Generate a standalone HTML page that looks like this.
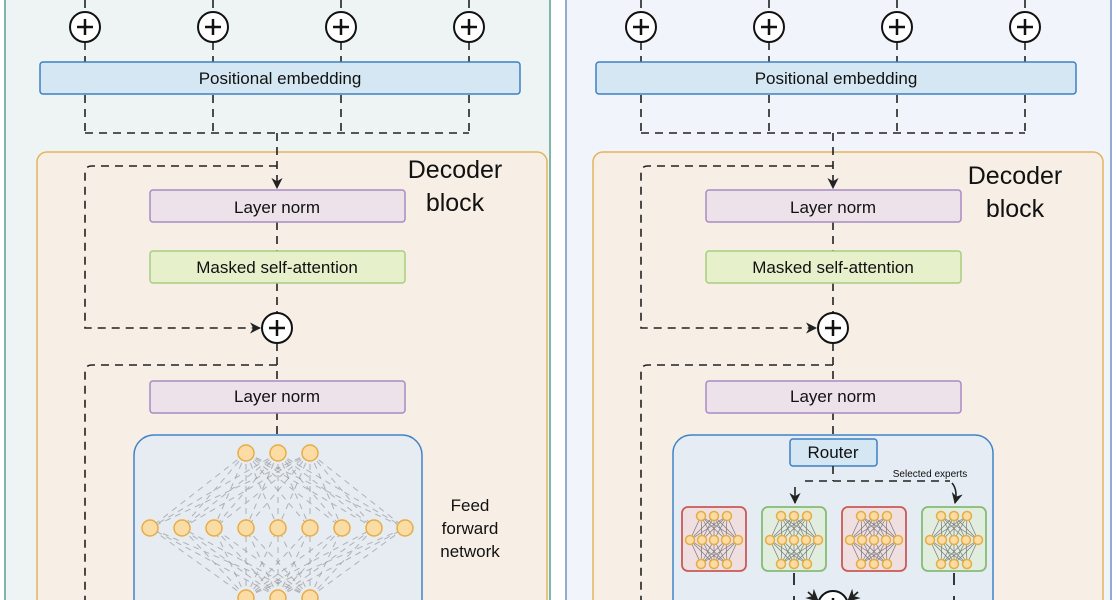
<!DOCTYPE html>
<html><head><meta charset="utf-8"><style>
html,body{margin:0;padding:0;background:#fff;}
svg{display:block;font-family:"Liberation Sans",sans-serif;}
</style></head><body>
<svg id="s" width="1116" height="600" viewBox="0 0 1116 600" xmlns="http://www.w3.org/2000/svg">
<defs>
<marker id="ar" viewBox="0 0 10 10" refX="9" refY="5" markerWidth="7" markerHeight="7" orient="auto"><path d="M0,0 L10,5 L0,10 L3,5 z" fill="#222"/></marker>
</defs>
<rect x="5" y="-5" width="545" height="620" fill="#eef4f4" stroke="#7fb5aa" stroke-width="2"/>
<rect x="566" y="-5" width="545" height="620" fill="#f1f4fa" stroke="#93aad2" stroke-width="2"/>
<g id="L"></g>
<g id="R"></g>
<g font-size="17" text-anchor="middle" fill="#111">
<text x="280" y="84">Positional embedding</text>
<text x="836" y="84">Positional embedding</text>
<text x="277" y="213">Layer norm</text>
<text x="833" y="213">Layer norm</text>
<text x="277" y="273">Masked self-attention</text>
<text x="833" y="273">Masked self-attention</text>
<text x="277" y="402">Layer norm</text>
<text x="833" y="402">Layer norm</text>
</g>
<g font-size="25" text-anchor="middle" fill="#111">
<text x="455" y="178">Decoder</text><text x="455" y="211">block</text>
<text x="1015" y="184">Decoder</text><text x="1015" y="217">block</text>
</g>
<g font-size="17" text-anchor="middle" fill="#111">
<text x="470" y="511">Feed</text><text x="470" y="534">forward</text><text x="470" y="557">network</text>
<text x="833" y="458">Router</text>
</g>
<text x="930" y="477" font-size="10" text-anchor="middle" fill="#111">Selected experts</text>
</svg>
<script>
const NS="http://www.w3.org/2000/svg";
function el(p,t,a){const e=document.createElementNS(NS,t);for(const k in a)e.setAttribute(k,a[k]);p.appendChild(e);return e;}
function plus(g,x,y){el(g,'circle',{cx:x,cy:y,r:15,fill:'#fff',stroke:'#111','stroke-width':2});
 el(g,'path',{d:`M${x-8},${y}H${x+8}M${x},${y-8}V${y+8}`,stroke:'#111','stroke-width':2.5});}
function panel(g,o,isMoe){
 const dash={stroke:'#222','stroke-width':1.6,'stroke-dasharray':'8,6',fill:'none'};
 const xs=[85,213,341,469].map(v=>v+o);
 el(g,'rect',{x:37+o,y:152,width:510,height:470,rx:10,fill:'#f7efe6',stroke:'#e3b45c','stroke-width':1.5});
 xs.forEach(x=>{el(g,'path',Object.assign({d:`M${x},0V12M${x},42V62M${x},95V133`},dash));});
 el(g,'path',Object.assign({d:`M${xs[0]},133H${xs[3]}`},dash));
 el(g,'path',Object.assign({d:`M${277+o},133V188`,'marker-end':'url(#ar)'},dash));
 el(g,'path',Object.assign({d:`M${277+o},166H${92+o}Q${85+o},166 ${85+o},173V328H${260+o}`,'marker-end':'url(#ar)'},dash));
 el(g,'path',Object.assign({d:`M${277+o},365H${92+o}Q${85+o},365 ${85+o},372V600`},dash));
 el(g,'path',Object.assign({d:`M${277+o},222V251M${277+o},283V313M${277+o},343V381M${277+o},412V435`},dash));
 el(g,'rect',{x:40+o,y:62,width:480,height:32,rx:3,fill:'#d4e7f3',stroke:'#3d80c1','stroke-width':1.5});
 el(g,'rect',{x:150+o,y:190,width:255,height:32,rx:3,fill:'#ede2ea',stroke:'#a98ac2','stroke-width':1.5});
 el(g,'rect',{x:150+o,y:251,width:255,height:32,rx:3,fill:'#e6f0cb',stroke:'#a8ce80','stroke-width':1.5});
 el(g,'rect',{x:150+o,y:381,width:255,height:32,rx:3,fill:'#ede2ea',stroke:'#a98ac2','stroke-width':1.5});
 xs.forEach(x=>plus(g,x,27));
 plus(g,277+o,328);
 const N={fill:'#fbdca4',stroke:'#e6ad45','stroke-width':1.5};
 if(!isMoe){
  el(g,'rect',{x:134,y:435,width:288,height:190,rx:20,fill:'#e6ecf2',stroke:'#3f83c7','stroke-width':1.5});
  const top=[246,278,310],mid=[150,182,214,246,278,310,342,374,405],bot=[246,278,310];
  top.forEach(a=>mid.forEach(b=>el(g,'line',{x1:a,y1:453,x2:b,y2:528,stroke:'#999','stroke-width':1,'stroke-dasharray':'6,5',opacity:.7})));
  bot.forEach(a=>mid.forEach(b=>el(g,'line',{x1:a,y1:597,x2:b,y2:528,stroke:'#999','stroke-width':1,'stroke-dasharray':'6,5',opacity:.7})));
  top.forEach(x=>el(g,'circle',Object.assign({cx:x,cy:453,r:8},N)));
  mid.forEach(x=>el(g,'circle',Object.assign({cx:x,cy:528,r:8},N)));
  bot.forEach(x=>el(g,'circle',Object.assign({cx:x,cy:598,r:8},N)));
 } else {
  el(g,'rect',{x:673,y:435,width:320,height:190,rx:18,fill:'#e6ecf3',stroke:'#3f83c7','stroke-width':1.5});
  el(g,'rect',{x:790,y:439,width:87,height:27,rx:3,fill:'#d4e7f3',stroke:'#3d80c1','stroke-width':1.5});
  el(g,'path',Object.assign({d:'M833,466V481M805,481H950'},dash));
  el(g,'path',{d:'M795,487V503',stroke:'#222','stroke-width':1.6,'marker-end':'url(#ar)'});
  el(g,'path',{d:'M952,483Q958,490 955,503',stroke:'#222','stroke-width':1.6,fill:'none','marker-end':'url(#ar)'});
  [[682,'#f0dfe1','#c95a55'],[762,'#e1edde','#86bb76'],[842,'#f0dfe1','#c95a55'],[922,'#e1edde','#86bb76']].forEach(([x,f,s])=>{
   el(g,'rect',{x:x,y:507,width:64,height:64,rx:6,fill:f,stroke:s,'stroke-width':1.8});
   const t=[x+19,x+32,x+45],m=[x+8,x+20,x+32,x+44,x+56];
   t.forEach(a=>m.forEach(b=>el(g,'line',{x1:a,y1:516,x2:b,y2:540,stroke:'#777','stroke-width':.7})));
   t.forEach(a=>m.forEach(b=>el(g,'line',{x1:a,y1:564,x2:b,y2:540,stroke:'#777','stroke-width':.7})));
   t.forEach(a=>el(g,'circle',Object.assign({cx:a,cy:516,r:4.5},N)));
   m.forEach(a=>el(g,'circle',Object.assign({cx:a,cy:540,r:4.5},N)));
   t.forEach(a=>el(g,'circle',Object.assign({cx:a,cy:564,r:4.5},N)));
   if(s=='#86bb76'){ el(g,'path',{d:`M${x+32},573V585`,stroke:'#222','stroke-width':1.8});
     el(g,'path',{d:`M${x+32},596V600`,stroke:'#222','stroke-width':1.8});}
  });
  el(g,'path',{d:'M808,592L818,601',stroke:'#222','stroke-width':1.8,'marker-end':'url(#ar)'});
  el(g,'path',{d:'M858,592L848,601',stroke:'#222','stroke-width':1.8,'marker-end':'url(#ar)'});
  plus(g,833,606);
 }
}
panel(document.getElementById('L'),0,false);
panel(document.getElementById('R'),556,true);
</script>
</body></html>
